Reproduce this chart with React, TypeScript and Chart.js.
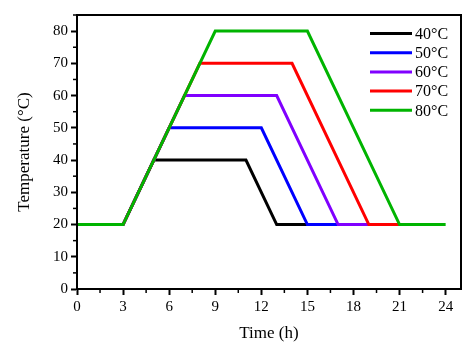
import React, { useEffect, useRef } from "react";
import { Chart, registerables } from "chart.js";

Chart.register(...registerables);

const seriesLabels = ["40°C", "50°C", "60°C", "70°C", "80°C"];
const seriesColors = ["#000000", "#0000ff", "#8000ff", "#ff0000", "#00b400"];
const time40 = [0, 3, 5, 11, 13, 15];
const temp40 = [20, 20, 40, 40, 20, 20];
const time50 = [0, 3, 6, 12, 15, 17];
const temp50 = [20, 20, 50, 50, 20, 20];
const time60 = [0, 3, 7, 13, 17, 19];
const temp60 = [20, 20, 60, 60, 20, 20];
const time70 = [0, 3, 8, 14, 19, 21];
const temp70 = [20, 20, 70, 70, 20, 20];
const time80 = [0, 3, 9, 15, 21, 24];
const temp80 = [20, 20, 80, 80, 20, 20];

const xTicks = [0, 3, 6, 9, 12, 15, 18, 21, 24];
const yTicks = [0, 10, 20, 30, 40, 50, 60, 70, 80];

const allTimes = [time40, time50, time60, time70, time80];
const allTemps = [temp40, temp50, temp60, temp70, temp80];

const SERIF = "'Liberation Serif', 'Times New Roman', serif";

const boxPlugin = {
  id: "boxAndMinor",
  afterDraw(chart: any) {
    const { ctx, chartArea: a, scales } = chart;
    ctx.save();
    ctx.strokeStyle = "#000";
    ctx.lineWidth = 2;
    ctx.strokeRect(a.left, a.top, a.right - a.left, a.bottom - a.top);
    // minor ticks
    ctx.lineWidth = 1.5;
    const xs = scales.x;
    for (let i = 0; i < xTicks.length - 1; i++) {
      const v = (xTicks[i] + xTicks[i + 1]) / 2;
      const px = xs.getPixelForValue(v);
      ctx.beginPath();
      ctx.moveTo(px, a.bottom);
      ctx.lineTo(px, a.bottom + 4);
      ctx.stroke();
    }
    const ys = scales.y;
    for (let i = 0; i < yTicks.length; i++) {
      const v = yTicks[i] + 5;
      const py = ys.getPixelForValue(v);
      ctx.beginPath();
      ctx.moveTo(a.left, py);
      ctx.lineTo(a.left - 4, py);
      ctx.stroke();
    }
    // legend
    const ds = chart.data.datasets;
    ctx.font = "16px " + SERIF;
    ctx.textBaseline = "middle";
    ctx.textAlign = "left";
    for (let i = 0; i < ds.length; i++) {
      const y = a.top + 18.5 + i * 19.2;
      ctx.strokeStyle = ds[i].borderColor;
      ctx.lineWidth = 3;
      ctx.beginPath();
      ctx.moveTo(a.left + 293, y);
      ctx.lineTo(a.left + 335, y);
      ctx.stroke();
      ctx.fillStyle = "#000";
      ctx.fillText(ds[i].label, a.left + 338, y + 1);
    }
    ctx.restore();
  },
};

export default function App() {
  const ref = useRef<HTMLCanvasElement | null>(null);
  useEffect(() => {
    document.body.style.margin = "0";
    const datasets = seriesLabels.map((label, i) => ({
      label,
      data: allTimes[i].map((t, j) => ({ x: t, y: allTemps[i][j] })),
      borderColor: seriesColors[i],
      backgroundColor: seriesColors[i],
      borderWidth: 3,
      pointRadius: 0,
      showLine: true,
      fill: false,
      tension: 0,
      borderJoinStyle: "miter" as const,
      order: seriesLabels.length - i,
    }));
    const chart = new Chart(ref.current as HTMLCanvasElement, {
      type: "scatter",
      data: { datasets },
      options: {
        animation: false,
        responsive: false,
        maintainAspectRatio: false,
        layout: { padding: { top: 15, right: 13, left: 0, bottom: 0 } },
        plugins: { legend: { display: false }, tooltip: { enabled: false } },
        scales: {
          x: {
            type: "linear",
            min: 0,
            max: 25,
            afterFit: (s: any) => {
              s.height = 64;
            },
            afterBuildTicks: (s: any) => {
              s.ticks = xTicks.map((v) => ({ value: v }));
            },
            ticks: {
              font: { family: SERIF, size: 15 },
              color: "#000",
              padding: 3,
              maxRotation: 0,
            },
            grid: {
              drawOnChartArea: false,
              drawTicks: true,
              tickLength: 6,
              tickWidth: 2,
              tickColor: "#000",
            },
            border: { color: "#000", width: 2 },
            title: {
              display: true,
              text: "Time (h)",
              font: { family: SERIF, size: 17 },
              color: "#000",
              padding: { top: 0, bottom: 9 },
            },
          },
          y: {
            type: "linear",
            min: 0,
            max: 85,
            afterFit: (s: any) => {
              s.width = 77;
            },
            afterBuildTicks: (s: any) => {
              s.ticks = yTicks.map((v) => ({ value: v }));
            },
            ticks: {
              font: { family: SERIF, size: 15 },
              color: "#000",
              padding: 3,
            },
            grid: {
              drawOnChartArea: false,
              drawTicks: true,
              tickLength: 6,
              tickWidth: 2,
              tickColor: "#000",
            },
            border: { color: "#000", width: 2 },
            title: {
              display: true,
              text: "Temperature (°C)",
              font: { family: SERIF, size: 17 },
              color: "#000",
              padding: { top: 14, bottom: 0 },
            },
          },
        },
      },
      plugins: [boxPlugin],
    });
    return () => chart.destroy();
  }, []);
  return (
    <div style={{ width: 474, height: 353, background: "#fff" }}>
      <canvas ref={ref} width={474} height={353} />
    </div>
  );
}
